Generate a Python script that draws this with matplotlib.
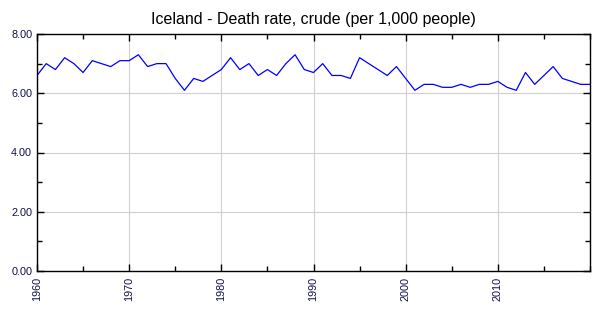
import numpy as np
import matplotlib.pyplot as plt
from matplotlib.ticker import MultipleLocator, FormatStrFormatter

plt.rcParams['font.family'] = ['Liberation Sans', 'DejaVu Sans']

# death rate, crude (per 1,000 people)
years = list(range(1960, 2021))
death_rate = [6.6, 7.0, 6.8, 7.2, 7.0, 6.7, 7.1, 7.0, 6.9, 7.1,
              7.1, 7.3, 6.9, 7.0, 7.0, 6.5, 6.1, 6.5, 6.4, 6.6,
              6.8, 7.2, 6.8, 7.0, 6.6, 6.8, 6.6, 7.0, 7.3, 6.8,
              6.7, 7.0, 6.6, 6.6, 6.5, 7.2, 7.0, 6.8, 6.6, 6.9,
              6.5, 6.1, 6.3, 6.3, 6.2, 6.2, 6.3, 6.2, 6.3, 6.3,
              6.4, 6.2, 6.1, 6.7, 6.3, 6.6, 6.9, 6.5, 6.4, 6.3,
              6.3]
year_ticks = [1960, 1970, 1980, 1990, 2000, 2010]

fig = plt.figure(figsize=(6, 3.15), dpi=100)
ax = fig.add_axes([37 / 600, 1 - 271 / 315, (590 - 37) / 600, (271 - 34) / 315])

ax.plot(years, death_rate, color='#0000ff', lw=0.9)

ax.set_xlim(1960, 2020)
ax.set_ylim(0, 8)
ax.set_xticks(year_ticks)
ax.set_xticklabels([str(y) for y in year_ticks])
ax.xaxis.set_minor_locator(MultipleLocator(5))
ax.yaxis.set_major_locator(MultipleLocator(2))
ax.yaxis.set_minor_locator(MultipleLocator(1))
ax.yaxis.set_major_formatter(FormatStrFormatter('%.2f'))

ax.grid(True, which='major', color='#d0d0d0', lw=0.8)
ax.set_axisbelow(True)
ax.tick_params(which='both', direction='in', top=True, right=True,
               labelsize=7.8, labelcolor='#10104a', width=1)
ax.tick_params(which='major', length=5)
ax.tick_params(which='minor', length=3.5)
ax.tick_params(axis='x', labelrotation=90, pad=4)
for s in ax.spines.values():
    s.set_linewidth(1)
    s.set_color('black')

fig.suptitle('Iceland - Death rate, crude (per 1,000 people)', x=(37 + 590) / 1200,
             y=1 - 19.5 / 315, va='center', fontsize=11.5)

fig.savefig('out.png', dpi=100)
